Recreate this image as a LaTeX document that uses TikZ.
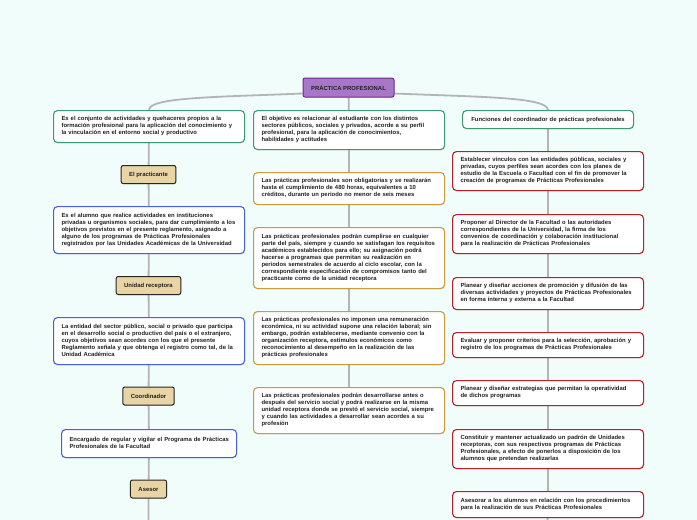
\documentclass[tikz,border=0pt]{standalone}
\usepackage{fontspec}
\newfontfamily\lsans{Liberation Sans}
\usetikzlibrary{backgrounds,shadows}
\definecolor{bgc}{RGB}{240,253,251}
\definecolor{grn}{RGB}{60,155,110}
\definecolor{blu}{RGB}{75,95,215}
\definecolor{gld}{RGB}{205,155,60}
\definecolor{redc}{RGB}{190,30,40}
\definecolor{tanc}{RGB}{232,212,165}
\definecolor{purF}{RGB}{168,120,200}
\definecolor{purD}{RGB}{110,40,150}
\definecolor{lnk}{RGB}{180,180,180}
\definecolor{txt}{RGB}{34,34,34}
\newcommand{\mylines}[1]{\begin{tabular}{@{}l@{}}#1\end{tabular}}
\begin{document}
\begin{tikzpicture}[x=1pt,y=-1pt,
  fnt/.style={font=\lsans\bfseries\fontsize{5.9}{7}\selectfont, text=txt},
  shd/.style={drop shadow={opacity=0.18, shadow xshift=0.5pt, shadow yshift=-0.8pt}},
  box/.style={fnt, shd, draw, fill=white, rounded corners=4pt, line width=1.1pt,
    align=left, anchor=north west, inner xsep=8pt, inner ysep=1pt},
  gbox/.style={box, draw=grn},
  bbox/.style={box, draw=blu},
  obox/.style={box, draw=gld},
  rbox/.style={box, draw=redc},
  tag/.style={fnt, shd, draw=black!85, fill=tanc, rounded corners=2pt, line width=1pt,
    minimum height=18pt, inner xsep=8pt, inner ysep=0pt},
  rootbox/.style={fnt, shd, draw=purD, fill=purF, rounded corners=2pt, line width=1pt,
    minimum width=91pt, minimum height=19pt, inner xsep=4pt, inner ysep=0pt},
  link/.style={draw=lnk, line width=1.8pt}
]
\useasboundingbox (0,0) rectangle (697,520);

\node[rootbox] (root) at (348.5,87.5) {PRÁCTICA PROFESIONAL};

% left column
\node[gbox, text width=175pt, minimum height=32pt] (l1) at (53,110)
 {\mylines{Es el conjunto de actividades y quehaceres propios a la\\
  formación profesional para la aplicación del conocimiento y\\
  la vinculación en el entorno social y productivo}};
\node[tag] (prac) at (148.5,174.5) {El practicante};
\node[bbox, text width=175pt, minimum height=47pt] (l2) at (53,206)
 {\mylines{Es el alumno que realice actividades en instituciones\\
  privadas u organismos sociales, para dar cumplimiento a los\\
  objetivos previstos en el presente reglamento, asignado a\\
  alguno de los programas de Prácticas Profesionales\\
  registrados por las Unidades Académicas de la Universidad}};
\node[tag] (unidad) at (148.5,285.5) {Unidad receptora};
\node[bbox, text width=175pt, minimum height=47pt] (l3) at (53,317)
 {\mylines{La entidad del sector público, social o privado que participa\\
  en el desarrollo social o productivo del país o el extranjero,\\
  cuyos objetivos sean acordes con los que el presente\\
  Reglamento señala y que obtenga el registro como tal, de la\\
  Unidad Académica}};
\node[tag] (coord) at (148.5,396) {Coordinador};
\node[bbox, text width=159pt, minimum height=28pt] (l4) at (61,429)
 {\mylines{Encargado de regular y vigilar el Programa de Prácticas\\
  Profesionales de la Facultad}};
\node[tag] (asesor) at (148.5,489) {Asesor};
\coordinate (lend) at (148.5,522);

% middle column
\node[gbox, text width=175pt, minimum height=39pt] (m1) at (253,110)
 {\mylines{El objetivo es relacionar al estudiante con los distintos\\
  sectores públicos, sociales y privados, acorde a su perfil\\
  profesional, para la aplicación de conocimientos,\\
  habilidades y actitudes}};
\node[obox, text width=175pt, minimum height=32pt] (m2) at (253,172)
 {\mylines{Las prácticas profesionales son obligatorias y se realizarán\\
  hasta el cumplimiento de 480 horas, equivalentes a 10\\
  créditos, durante un periodo no menor de seis meses}};
\node[obox, text width=175pt, minimum height=61pt] (m3) at (253,227)
 {\mylines{Las prácticas profesionales podrán cumplirse en cualquier\\
  parte del país, siempre y cuando se satisfagan los requisitos\\
  académicos establecidos para ello; su asignación podrá\\
  hacerse a programas que permitan su realización en\\
  periodos semestrales de acuerdo al ciclo escolar, con la\\
  correspondiente especificación de compromisos tanto del\\
  practicante como de la unidad receptora}};
\node[obox, text width=175pt, minimum height=53pt] (m4) at (253,311)
 {\mylines{Las prácticas profesionales no imponen una remuneración\\
  económica, ni su actividad supone una relación laboral; sin\\
  embargo, podrán establecerse, mediante convenio con la\\
  organización receptora, estímulos económicos como\\
  reconocimiento al desempeño en la realización de las\\
  prácticas profesionales}};
\node[obox, text width=175pt, minimum height=46pt] (m5) at (253,387)
 {\mylines{Las prácticas profesionales podrán desarrollarse antes o\\
  después del servicio social y podrá realizarse en la misma\\
  unidad receptora donde se prestó el servicio social, siempre\\
  y cuando las actividades a desarrollar sean acordes a su\\
  profesión}};

% right column
\node[gbox, align=center, text width=155pt, minimum height=18pt] (func) at (462,110)
 {Funciones del coordinador de prácticas profesionales};
\node[rbox, text width=175pt, minimum height=39pt] (r1) at (452,151)
 {\mylines{Establecer vínculos con las entidades públicas, sociales y\\
  privadas, cuyos perfiles sean acordes con los planes de\\
  estudio de la Escuela o Facultad con el fin de promover la\\
  creación de programas de Prácticas Profesionales}};
\node[rbox, text width=175pt, minimum height=39pt] (r2) at (452,214)
 {\mylines{Proponer al Director de la Facultad o las autoridades\\
  correspondientes de la Universidad, la firma de los\\
  convenios de coordinación y colaboración institucional\\
  para la realización de Prácticas Profesionales}};
\node[rbox, text width=175pt, minimum height=32pt] (r3) at (452,277)
 {\mylines{Planear y diseñar acciones de promoción y difusión de las\\
  diversas actividades y proyectos de Prácticas Profesionales\\
  en forma interna y externa a la Facultad}};
\node[rbox, text width=175pt, minimum height=25pt] (r4) at (452,332)
 {\mylines{Evaluar y proponer criterios para la selección, aprobación y\\
  registro de los programas de Prácticas Profesionales}};
\node[rbox, text width=175pt, minimum height=25pt] (r5) at (452,380)
 {\mylines{Planear y diseñar estrategias que permitan la operatividad\\
  de dichos programas}};
\node[rbox, text width=175pt, minimum height=39pt] (r6) at (452,429)
 {\mylines{Constituir y mantener actualizado un padrón de Unidades\\
  receptoras, con sus respectivos programas de Prácticas\\
  Profesionales, a efecto de ponerlos a disposición de los\\
  alumnos que pretendan realizarlas}};
\node[rbox, text width=175pt, minimum height=26pt] (r7) at (452,491)
 {\mylines{Asesorar a los alumnos en relación con los procedimientos\\
  para la realización de sus Prácticas Profesionales}};
\coordinate (rend) at (547.5,522);

\begin{scope}[on background layer]
  \fill[bgc] (0,0) rectangle (697,520);
  \draw[link] ([yshift=-6pt]root.west) .. controls (220,97) and (148.5,97) .. (l1.north);
  \draw[link] ([yshift=-6pt]root.east) .. controls (480,97) and (547.5,97) .. (func.north);
  \draw[link] (root) -- (m1) -- (m2) -- (m3) -- (m4) -- (m5);
  \draw[link] (l1) -- (prac) -- (l2) -- (unidad) -- (l3) -- (coord) -- (l4) -- (asesor) -- (lend);
  \draw[link] (func) -- (r1) -- (r2) -- (r3) -- (r4) -- (r5) -- (r6) -- (r7) -- (rend);
\end{scope}
\end{tikzpicture}
\end{document}
